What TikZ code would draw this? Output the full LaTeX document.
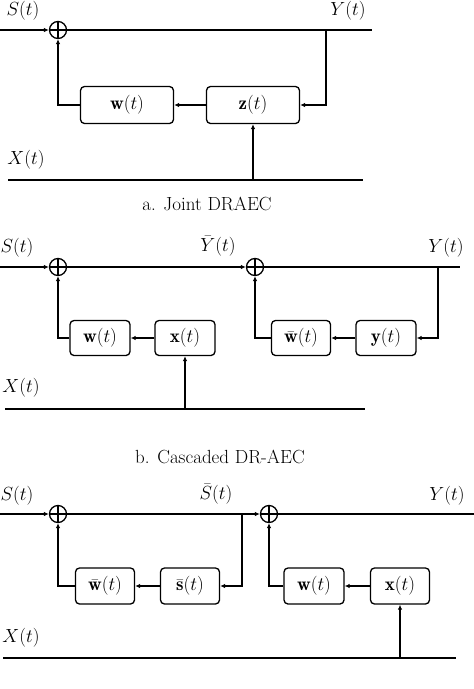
\documentclass[tikz,border=0pt]{standalone}
\usepackage{fix-cm}
\usepackage{fontspec}
\usetikzlibrary{arrows.meta,calc}
\begin{document}
\begin{tikzpicture}[x=1pt,y=-1pt,
  line width=1.3pt,
  every node/.style={font=\fontsize{19}{23}\selectfont},
  lbl/.style={inner sep=0pt},
  blk/.style={draw,rounded corners=4pt,minimum height=36pt,inner sep=0pt,line width=1.3pt},
  sumn/.style={draw,circle,minimum size=17pt,inner sep=0pt,line width=1.3pt,
    path picture={\draw[line width=1.2pt] (path picture bounding box.north) -- (path picture bounding box.south)
      (path picture bounding box.west) -- (path picture bounding box.east);}},
  arr/.style={-{Latex[length=5pt,width=4.5pt]}}
]
\useasboundingbox (0,0) rectangle (474,689);

% ---------------- panel a ----------------
\node[sumn] (sA) at (58,30) {};
\coordinate (aIn) at (0,30);
\coordinate (aOut) at (372,30);
\coordinate (aBr) at (326,30);
\node[blk,minimum width=93pt,minimum height=37pt] (zA) at (253,105) {$\mathbf{z}(t)$};
\node[blk,minimum width=93pt,minimum height=37pt] (wA) at (127,105) {$\mathbf{w}(t)$};
\coordinate (aX1) at (8,180);
\coordinate (aX2) at (363,180);
\coordinate (aXb) at (253,180);
\draw[arr] (aIn) -- (sA);
\draw (sA) -- (aOut);
\draw[arr] (aBr) |- (zA.east);
\draw[arr] (zA.west) -- (wA.east);
\draw[arr] (wA.west) -| (sA.south);
\draw (aX1) -- (aX2);
\draw[arr] (aXb) -- (zA.south);
\node[lbl] (aS) at (23,11) {$S(t)$};
\node[lbl] (aY) at (348,11) {$Y(t)$};
\node[lbl] (aX) at (26,160) {$X(t)$};
\node[lbl] (capA) at (207,204) {a. Joint DRAEC};

% ---------------- panel b ----------------
\node[sumn] (sB1) at (58,267) {};
\node[sumn] (sB2) at (255,267) {};
\coordinate (bIn) at (0,267);
\coordinate (bOut) at (460,267);
\coordinate (bBr) at (438,267);
\node[blk,minimum width=60pt,minimum height=35pt] (wB) at (100,338) {$\mathbf{w}(t)$};
\node[blk,minimum width=60pt,minimum height=35pt] (xB) at (185,338) {$\mathbf{x}(t)$};
\node[blk,minimum width=59pt,minimum height=35pt] (wbB) at (301,338) {$\bar{\mathbf{w}}(t)$};
\node[blk,minimum width=60pt,minimum height=35pt] (yB) at (386,338) {$\mathbf{y}(t)$};
\coordinate (bX1) at (5,409);
\coordinate (bX2) at (365,409);
\coordinate (bXb) at (185,409);
\draw[arr] (bIn) -- (sB1);
\draw[arr] (sB1) -- (sB2);
\draw (sB2) -- (bOut);
\draw[arr] (bBr) |- (yB.east);
\draw[arr] (yB.west) -- (wbB.east);
\draw[arr] (wbB.west) -| (sB2.south);
\draw[arr] (xB.west) -- (wB.east);
\draw[arr] (wB.west) -| (sB1.south);
\draw (bX1) -- (bX2);
\draw[arr] (bXb) -- (xB.south);
\node[lbl] (bS) at (17,248) {$S(t)$};
\node[lbl] (bYb) at (218,246) {$\bar{Y}(t)$};
\node[lbl] (bY) at (446,248) {$Y(t)$};
\node[lbl] (bX) at (21,388) {$X(t)$};
\node[lbl] (capB) at (220,457) {b. Cascaded DR-AEC};

% ---------------- panel c ----------------
\node[sumn] (sC1) at (58,514) {};
\node[sumn] (sC2) at (269,514) {};
\coordinate (cIn) at (0,514);
\coordinate (cOut) at (474,514);
\coordinate (cBr) at (242,514);
\node[blk,minimum width=59pt] (wbC) at (105,586) {$\bar{\mathbf{w}}(t)$};
\node[blk,minimum width=59pt] (sbC) at (190,586) {$\bar{\mathbf{s}}(t)$};
\node[blk,minimum width=60pt] (wC) at (314,586) {$\mathbf{w}(t)$};
\node[blk,minimum width=59pt] (xC) at (400,586) {$\mathbf{x}(t)$};
\coordinate (cX1) at (3,658);
\coordinate (cX2) at (456,658);
\coordinate (cXb) at (400,658);
\draw[arr] (cIn) -- (sC1);
\draw[arr] (sC1) -- (sC2);
\draw (sC2) -- (cOut);
\draw[arr] (cBr) |- (sbC.east);
\draw[arr] (sbC.west) -- (wbC.east);
\draw[arr] (wbC.west) -| (sC1.south);
\draw[arr] (xC.west) -- (wC.east);
\draw[arr] (wC.west) -| (sC2.south);
\draw (cX1) -- (cX2);
\draw[arr] (cXb) -- (xC.south);
\node[lbl] (cS) at (17,496) {$S(t)$};
\node[lbl] (cSb) at (216,494) {$\bar{S}(t)$};
\node[lbl] (cY) at (447,496) {$Y(t)$};
\node[lbl] (cX) at (21,638) {$X(t)$};
\end{tikzpicture}
\end{document}
